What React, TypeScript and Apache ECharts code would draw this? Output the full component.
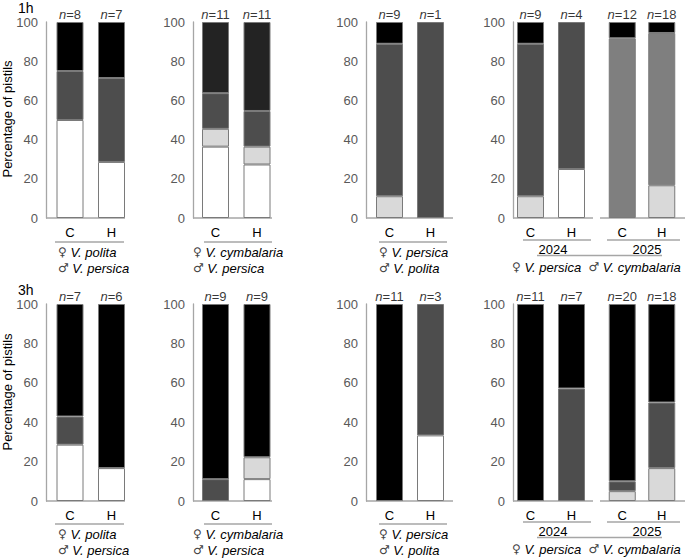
import React, { useEffect, useRef } from 'react';
import * as echarts from 'echarts';

// ---------------- DATA ----------------
const CATEGORIES = ['C', 'H'];
const Y_MIN = 0;
const Y_MAX = 100;
const Y_STEP = 20;
const ROW_TITLES = ['1h', '3h'];
const Y_TITLE = 'Percentage of pistils';
const YEARS = ['2024', '2025'];
const FEMALE = ['V. polita', 'V. cymbalaria', 'V. persica', 'V. persica'];
const MALE = ['V. persica', 'V. persica', 'V. polita', 'V. cymbalaria'];

// per panel (5 panels per row: 3 crosses + 2024 + 2025), values for [C, H]
const N_1H = [[8, 7], [11, 11], [9, 1], [9, 4], [12, 18]];
const WHITE_1H = [[50, 28.6], [36.4, 27.3], [0, 0], [0, 25], [0, 0]];
const LIGHT_1H = [[0, 0], [9.1, 9.1], [11.1, 0], [11.1, 0], [0, 16.7]];
const DARK_1H = [[25, 42.8], [18.2, 18.2], [77.8, 100], [77.8, 75], [91.7, 77.7]];
const BLACK_1H = [[25, 28.6], [36.3, 45.4], [11.1, 0], [11.1, 0], [8.3, 5.6]];

const N_3H = [[7, 6], [9, 9], [11, 3], [11, 7], [20, 18]];
const WHITE_3H = [[28.6, 16.7], [0, 11.1], [0, 33.3], [0, 0], [0, 0]];
const LIGHT_3H = [[0, 0], [0, 11.1], [0, 0], [0, 0], [5, 16.7]];
const DARK_3H = [[14.3, 0], [11.1, 0], [0, 66.7], [0, 57.1], [5, 33.3]];
const BLACK_3H = [[57.1, 83.3], [88.9, 77.8], [100, 0], [100, 42.9], [90, 50]];

// segment colours per panel
const DARK_COLORS_1H = ['#4d4d4d', '#4d4d4d', '#4d4d4d', '#4d4d4d', '#7f7f7f'];
const BLACK_COLORS_1H = ['#000000', '#232323', '#000000', '#000000', '#000000'];
const DARK_COLORS_3H = ['#4d4d4d', '#4d4d4d', '#4d4d4d', '#4d4d4d', '#4d4d4d'];
const BLACK_COLORS_3H = ['#000000', '#000000', '#000000', '#000000', '#000000'];

// ---------------- LAYOUT ----------------
const FONT = '"Liberation Sans", Arial, Helvetica, sans-serif';
const AXIS_GRAY = '#a6a6a6';
const COLS = [
  { left: 49.25, width: 83, axisX: 46, base: [46, 125], under: [55, 124], spX: 58 },
  { left: 194.75, width: 83, axisX: 193, base: [193, 272], under: [204, 272], spX: 193 },
  { left: 369, width: 82, axisX: 366, base: [366, 453], under: [379, 447], spX: 379 },
  { left: 510, width: 82, axisX: 513, base: [513, 593], under: [523, 591], spX: 512 },
  { left: 602.5, width: 79, axisX: null as number | null, base: [600, 685], under: [607, 680], spX: 0 },
];
const ROWS = [
  { top: 22, height: 196, off: 0 },
  { top: 304, height: 197, off: 282 },
];

function buildOption() {
  const grids: any[] = [];
  const xAxes: any[] = [];
  const yAxes: any[] = [];
  const series: any[] = [];
  const graphics: any[] = [];

  const rowData = [
    { n: N_1H, w: WHITE_1H, l: LIGHT_1H, d: DARK_1H, b: BLACK_1H, dc: DARK_COLORS_1H, bc: BLACK_COLORS_1H },
    { n: N_3H, w: WHITE_3H, l: LIGHT_3H, d: DARK_3H, b: BLACK_3H, dc: DARK_COLORS_3H, bc: BLACK_COLORS_3H },
  ];

  const line = (x1: number, y1: number, x2: number, y2: number) => ({
    type: 'line',
    silent: true,
    shape: { x1, y1, x2, y2 },
    style: { stroke: AXIS_GRAY, lineWidth: 1.3 },
  });
  const text = (x: number, y: number, t: string, size: number, align = 'left', extra: any = {}) => ({
    type: 'text',
    silent: true,
    x,
    y,
    ...extra,
    style: {
      text: t,
      fontSize: size,
      fontFamily: FONT,
      fill: '#000',
      align,
      verticalAlign: 'middle',
    },
  });
  const speciesText = (x: number, y: number, sym: string, name: string, sym2?: string, name2?: string) => {
    const rich: any = {
      s: { fontSize: 12, fontFamily: 'DejaVu Sans, sans-serif', fill: '#444' },
      i: { fontSize: 13, fontFamily: FONT, fontStyle: 'italic', fill: '#000' },
      p: { fontSize: 13, fontFamily: FONT, fill: '#000' },
    };
    let t = `{s|${sym}}{p| }{i|${name}}`;
    if (sym2 && name2) t += `{p|  }{s|${sym2}}{p| }{i|${name2}}`;
    return {
      type: 'text',
      silent: true,
      x,
      y,
      style: { text: t, rich, align: 'left', verticalAlign: 'middle', fontSize: 13, fontFamily: FONT },
    };
  };

  ROWS.forEach((row, r) => {
    const d = rowData[r];
    const bottom = row.top + row.height;
    COLS.forEach((col, c) => {
      const g = grids.length;
      grids.push({ left: col.left, top: row.top, width: col.width, height: row.height, containLabel: false });
      xAxes.push({
        type: 'category',
        gridIndex: g,
        data: CATEGORIES,
        axisLine: { show: false },
        axisTick: { show: false },
        axisLabel: { fontSize: 13, color: '#000', margin: 8, fontFamily: FONT },
      });
      yAxes.push({
        type: 'value',
        gridIndex: g,
        min: Y_MIN,
        max: Y_MAX,
        interval: Y_STEP,
        show: col.axisX !== null,
        offset: col.axisX !== null ? col.left - col.axisX : 0,
        axisLine: { show: true, lineStyle: { color: AXIS_GRAY, width: 1.3 } },
        axisTick: { show: false },
        splitLine: { show: false },
        axisLabel: { fontSize: 13, color: '#595959', margin: 8, fontFamily: FONT },
      });
      const segs = [
        { vals: d.w[c], color: '#ffffff' },
        { vals: d.l[c], color: '#d9d9d9' },
        { vals: d.d[c], color: d.dc[c] },
        { vals: d.b[c], color: d.bc[c] },
      ];
      segs.forEach((s, si) => {
        series.push({
          type: 'bar',
          name: `seg${si}`,
          xAxisIndex: g,
          yAxisIndex: g,
          stack: `stack${g}`,
          barWidth: 27,
          silent: true,
          data: s.vals.map((v: number) => (v === 0 ? '-' : v)),
          itemStyle: { color: s.color, borderColor: '#7a7a7a', borderWidth: 1 },
        });
      });
      const ns = d.n[c];
      series.push({
        type: 'scatter',
        xAxisIndex: g,
        yAxisIndex: g,
        silent: true,
        symbolSize: 1,
        itemStyle: { color: 'rgba(0,0,0,0)' },
        data: CATEGORIES.map(() => Y_MAX),
        label: {
          show: true,
          position: 'top',
          distance: 1,
          formatter: (p: any) => `{i|n}{p|=${ns[p.dataIndex]}}`,
          rich: {
            i: { fontSize: 13, fontStyle: 'italic', fontFamily: FONT, color: '#000' },
            p: { fontSize: 13, fontFamily: FONT, color: '#000' },
          },
        },
        z: 5,
      });
      // baseline
      graphics.push(line(col.base[0], bottom, col.base[1], bottom));
      // underline beneath C/H
      const uy = (c >= 3 ? 240 : 242) + row.off;
      graphics.push(line(col.under[0], uy, col.under[1], uy));
      if (c < 3) {
        graphics.push(speciesText(col.spX, 252 + row.off, '♀', FEMALE[c]));
        graphics.push(speciesText(col.spX, 268 + row.off, '♂', MALE[c]));
      }
    });
    // year labels and long line for the 4th panel
    graphics.push(text(553, 249 + row.off, YEARS[0], 13, 'center'));
    graphics.push(text(647, 249 + row.off, YEARS[1], 13, 'center'));
    graphics.push(line(537, 255.5 + row.off, 662, 255.5 + row.off));
    graphics.push(speciesText(COLS[3].spX, 267 + row.off, '♀', FEMALE[3], '♂', MALE[3]));
    // row title
    graphics.push(text(18, 7.5 + row.off, ROW_TITLES[r], 14, 'left'));
  });
  // y titles
  graphics.push(text(7, 119, Y_TITLE, 13, 'center', { rotation: Math.PI / 2 }));
  graphics.push(text(7, 392, Y_TITLE, 13, 'center', { rotation: Math.PI / 2 }));

  return {
    animation: false,
    backgroundColor: '#ffffff',
    grid: grids,
    xAxis: xAxes,
    yAxis: yAxes,
    series,
    graphic: { elements: graphics },
  };
}

export default function App() {
  const ref = useRef<HTMLDivElement>(null);
  useEffect(() => {
    if (!ref.current) return;
    const chart = echarts.init(ref.current, undefined, { renderer: 'svg' });
    chart.setOption(buildOption() as any);
    return () => chart.dispose();
  }, []);
  return (
    <div
      ref={ref}
      style={{ position: 'fixed', left: 0, top: 0, width: 685, height: 559, background: '#fff' }}
    />
  );
}
